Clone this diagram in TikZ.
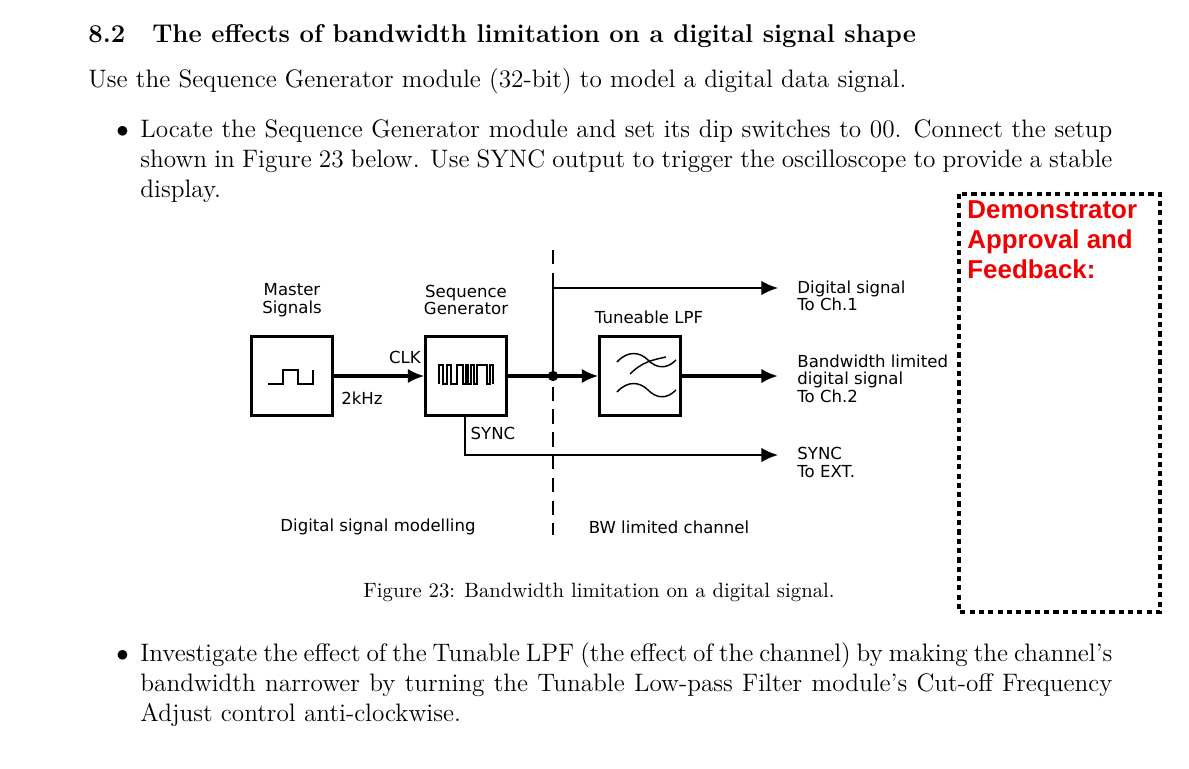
\documentclass[tikz,border=0pt]{standalone}
\usepackage{fontspec}
\newfontfamily\diagfont{DejaVu Sans}
\newfontfamily\boxfont{Liberation Sans}
\usetikzlibrary{arrows.meta,positioning}
\definecolor{approvalred}{RGB}{240,0,0}
\newcommand{\fullline}[1]{\hbox to 469.5pt{#1}}
\tikzset{
  txt/.style={anchor=base west,inner sep=0pt,font=\fontsize{12.2}{14.5}\selectfont},
  head/.style={txt,font=\bfseries\fontsize{12.4}{15}\selectfont},
  blk/.style={draw,line width=1.2pt,minimum width=39pt,minimum height=38pt,inner sep=0pt},
  lbl/.style={font=\diagfont\fontsize{8}{8.6}\selectfont,inner sep=0pt,align=left},
  bus/.style={line width=2pt},
  wire/.style={line width=1pt},
  tip/.style={-{Latex[length=8pt,width=7pt]}}
}
\begin{document}
\begin{tikzpicture}[x=0.483pt,y=-0.483pt]
\useasboundingbox (0,0) rectangle (1189,768);
% Text above the figure
\node[head] (secno) at (88,42) {8.2};
\node[head] (sectitle) at (152,42) {The effects of bandwidth limitation on a digital signal shape};
\node[txt] (intro) at (88,87) {Use the Sequence Generator module (32-bit) to model a digital data signal.};
\node[txt] (bulA) at (116,137) {$\bullet$};
\node[txt] (lineA1) at (140,137) {\fullline{Locate the Sequence Generator module and set its dip switches to 00. Connect the setup}};
\node[txt] (lineA2) at (140,167) {\fullline{shown in Figure 23 below. Use SYNC output to trigger the oscilloscope to provide a stable}};
\node[txt] (lineA3) at (140,197) {display.};

% Approval box
\draw[line width=2.2pt,dash pattern=on 2.5pt off 2pt] (959,194) rectangle (1160,612);
\node[anchor=north west,inner sep=0pt,align=left,text=approvalred,
      font=\boxfont\bfseries\fontsize{12.5}{14.5}\selectfont] (approval) at (967,200)
      {Demonstrator\\Approval and\\Feedback:};

% Blocks
\node[blk] (master) at (292,376) {};
\node[blk] (seqgen) at (466,376) {};
\node[blk] (lpf) at (640,376) {};
\node[lbl,align=center] (masterlbl) at (292,300) {Master\\Signals};
\node[lbl,align=center] (seqlbl) at (466,300) {Sequence\\Generator};
\node[lbl] (lpflbl) at (649,317) {Tuneable LPF};
\node[lbl] (clklbl) at (405,357) {CLK};
\node[lbl] (freqlbl) at (362,398) {2kHz};
\node[lbl] (synclbl) at (493,433) {SYNC};

% Symbols in the blocks
\draw[line width=0.6pt] (268,384) -- (283,384) -- (283,370) -- (298,370) -- (298,384) -- (313,384) -- (313,370);
\draw[line width=0.6pt] (439,384) -- (439,365) -- (443,365) -- (443,384) -- (447,384) -- (447,365) -- (451,365) -- (451,384)
  -- (457,384) -- (457,365) -- (463,365) -- (463,384) -- (466,384) -- (466,365) -- (468,365) -- (468,384)
  -- (471,384) -- (471,365) -- (474,365) -- (474,384) -- (477,384) -- (477,365) -- (487,365) -- (487,384)
  -- (490,384) -- (490,365) -- (493,365) -- (493,384);
\draw[line width=0.7pt] (617,362) .. controls (628,350) and (640,352) .. (648,360) .. controls (656,368) and (666,370) .. (676,360);
\draw[line width=0.7pt] (630,374) .. controls (642,362) and (652,360) .. (666,357);
\draw[line width=0.7pt] (617,392) .. controls (628,380) and (640,382) .. (648,390) .. controls (656,398) and (666,400) .. (676,390);

% Channel boundary
\coordinate (cuttop) at (553,250);
\coordinate (cutbot) at (553,535);
\draw[line width=0.6pt,dash pattern=on 7pt off 4pt] (cuttop) -- (cutbot);

% Connections
\coordinate (junc) at (553,376);
\coordinate (upcorner) at (553,288);
\coordinate (syncdrop) at (465,455);
\coordinate (outA) at (778,288);
\coordinate (outB) at (778,376);
\coordinate (outC) at (778,455);
\draw[bus,tip] (master) -- (seqgen);
\draw[bus] (seqgen) -- (junc);
\draw[bus,tip] (junc) -- (lpf);
\draw[bus,tip] (lpf) -- (outB);
\fill (junc) circle (2.5pt);
\draw[wire,tip] (junc) -- (upcorner) -- (outA);
\draw[wire,tip] (seqgen.south -| syncdrop) -- (syncdrop) -- (outC);

% Output labels
\node[lbl,anchor=north west] (outAlbl) at (797,280) {Digital signal\\To Ch.1};
\node[lbl,anchor=north west] (outBlbl) at (797,354) {Bandwidth limited\\digital signal\\To Ch.2};
\node[lbl,anchor=north west] (outClbl) at (797,447) {SYNC\\To EXT.};
\node[lbl] (modlbl) at (378,527) {Digital signal modelling};
\node[lbl] (chanlbl) at (669,527) {BW limited channel};

% Caption and text below
\node[inner sep=0pt,font=\fontsize{10}{12}\selectfont] (caption) at (599,592) {Figure 23: Bandwidth limitation on a digital signal.};
\node[txt] (bulB) at (116,661) {$\bullet$};
\node[txt] (lineB1) at (140,661) {\fullline{Investigate the effect of the Tunable LPF (the effect of the channel) by making the channel's}};
\node[txt] (lineB2) at (140,691) {\fullline{bandwidth narrower by turning the Tunable Low-pass Filter module's Cut-off Frequency}};
\node[txt] (lineB3) at (140,721) {Adjust control anti-clockwise.};
\end{tikzpicture}
\end{document}
